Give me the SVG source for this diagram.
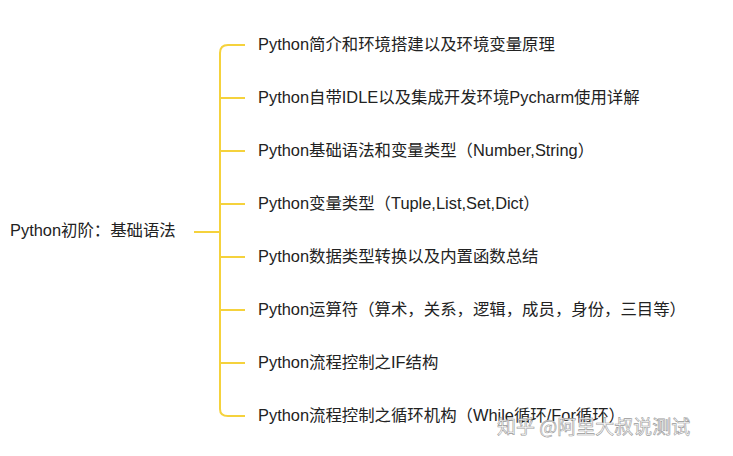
<svg xmlns="http://www.w3.org/2000/svg" width="733" height="456" viewBox="0 0 733 456">
<style>
.t{font-family:"Liberation Sans","Noto Sans CJK SC",sans-serif;font-size:16.4px;fill:#222}
.c{fill:none;stroke:#F5D23C;stroke-width:2}
</style>
<rect width="733" height="456" fill="#fff"/>
<g id="connectors">
<path class="c" d="M194 232 H220"/>
<path class="c" d="M245 45 H228 Q220 45 220 53 V409 Q220 416 228 416 H245"/>
<path class="c" d="M220 98 H245 M220 151 H245 M220 204 H245 M220 257 H245 M220 310 H245 M220 363 H245"/>
</g>
<g id="root"><text class="t" x="10" y="236">Python初阶：基础语法</text></g>
<g id="n1"><text class="t" x="258" y="50">Python简介和环境搭建以及环境变量原理</text></g>
<g id="n2"><text class="t" x="258" y="103">Python自带IDLE以及集成开发环境Pycharm使用详解</text></g>
<g id="n3"><text class="t" x="258" y="156">Python基础语法和变量类型（Number,String）</text></g>
<g id="n4"><text class="t" x="258" y="209">Python变量类型（Tuple,List,Set,Dict）</text></g>
<g id="n5"><text class="t" x="258" y="262">Python数据类型转换以及内置函数总结</text></g>
<g id="n6"><text class="t" x="258" y="315">Python运算符（算术，关系，逻辑，成员，身份，三目等）</text></g>
<g id="n7"><text class="t" x="258" y="368">Python流程控制之IF结构</text></g>
<g id="n8"><text class="t" x="258" y="421">Python流程控制之循环机构（While循环/For循环）</text></g>
<text x="497" y="434" style="font-family:'Noto Sans CJK SC',sans-serif;font-size:19px;fill:#fff;fill-opacity:0.85;stroke:#999;stroke-width:0.6">知乎 @阿里大叔说测试</text>
</svg>
